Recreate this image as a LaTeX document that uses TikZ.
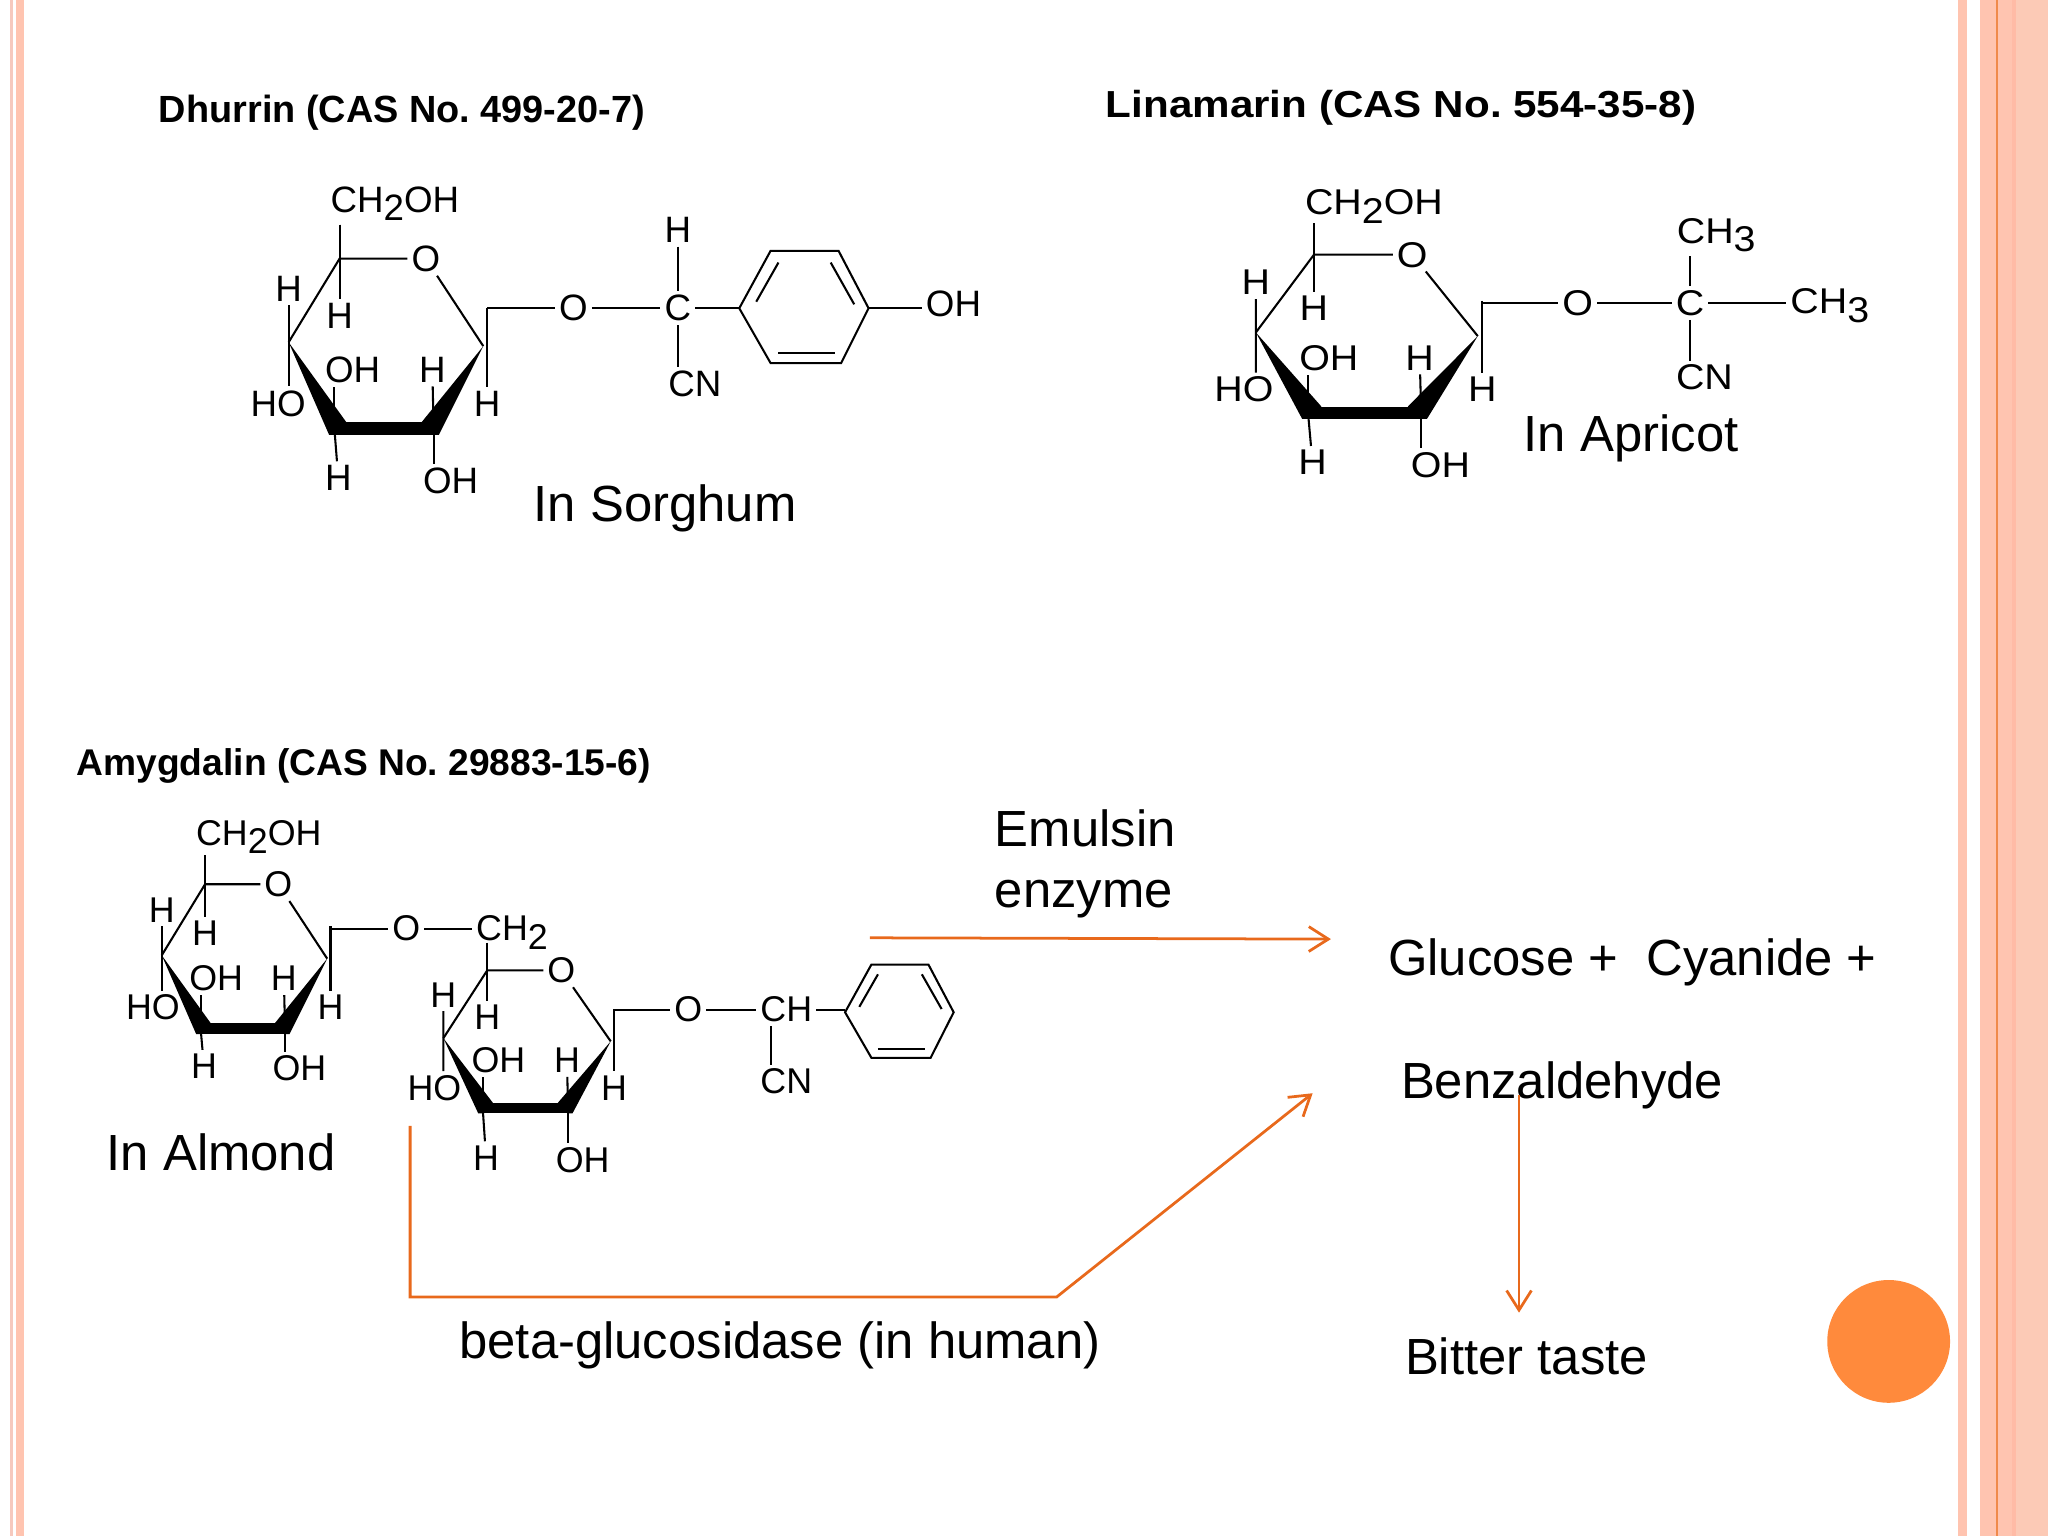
\documentclass[tikz,border=0pt]{standalone}
\usepackage{fontspec}
\setmainfont{Liberation Sans}
\newfontfamily\widebold[FakeStretch=1.12]{Liberation Sans Bold}
\newfontfamily\widechem[FakeStretch=1.1]{Liberation Sans}
\usetikzlibrary{arrows.meta}
\definecolor{barpeach}{HTML}{FFC4B0}
\definecolor{barpale}{HTML}{FCCAB6}
\definecolor{bardark}{HTML}{FFBBA6}
\definecolor{barpink}{HTML}{F6C9BE}
\definecolor{barline}{HTML}{F08A4B}
\definecolor{dotorange}{HTML}{FF8A3C}
\definecolor{arroworange}{HTML}{E8691C}
\tikzset{
	chemlab/.style={font=\fontsize{8}{8}\selectfont, inner sep=0.7pt},
	chemsmall/.style={font=\fontsize{7.8}{8}\selectfont, inner sep=0.7pt},
	chemwide/.style={font=\widechem\fontsize{7.8}{8}\selectfont, inner sep=0.7pt},
	bond/.style={line width=0.45pt, black},
	heading/.style={anchor=base west, inner sep=0pt, font=\bfseries\fontsize{8.25}{9}\selectfont},
	slidetext/.style={anchor=base west, inner sep=0pt, font=\fontsize{11.07}{13}\selectfont},
	flow/.style={line width=0.6pt, arroworange, -{Straight Barb[length=1.5mm,width=1.9mm]}},
}
\newcommand{\lowered}[1]{\raisebox{-0.45ex}{#1}}
% ring: name prefix, position of the upper left carbon, x and y scale, label style, height of the lowest labels
\newcommand{\sugarring}[6]{
	\begin{scope}[shift={(#2)}, xscale=#3, yscale=#4, every node/.style={#5}]
		\coordinate (#1C5) at (0,0);
		\coordinate (#1C1) at (110,67);
		\coordinate (#1C2) at (72,130);
		\coordinate (#1C3) at (-4,130);
		\coordinate (#1C4) at (-39,64);
		\coordinate (#1top) at (0,-26);
		\coordinate (#1link) at (113,38);
		\node (#1O) at (66,0) {O};
		\node (#1Ha) at (-39,23) {H};
		\node (#1Hb) at (0,44) {H};
		\node (#1HO) at (-47,111) {HO};
		\node (#1OHa) at (10,85) {OH};
		\node (#1Hc) at (71,85) {H};
		\node (#1Hd) at (113,111) {H};
		\node (#1He) at (-1,#6) {H};
		\node (#1OHb) at (85,#6+2) {OH};
		\draw[bond] (#1C4) -- (#1C5) -- (#1O) -- (#1C1);
		\draw[bond] (#1top) -- (#1Hb);
		\draw[bond] (#1Ha) -- (#1Ha |- #1HO.north);
		\draw[bond] (#1C3) -- (#1C3 |- #1OHa.south);
		\draw[bond] (#1C2) -- (#1Hc);
		\draw[bond] (#1link) -- (#1link |- #1Hd.north);
		\draw[bond] (#1C3) -- (#1He);
		\draw[bond] (#1C2) -- (#1C2 |- #1OHb.north);
		\fill (#1C4) -- (5,125) -- (-4,135) -- (-8,135) -- cycle;
		\fill (-8,125) rectangle (76,135);
		\fill (#1C1) -- (63,125) -- (72,135) -- (76,135) -- cycle;
	\end{scope}
}
% benzene: name prefix, position of the left corner, x and y scale
\newcommand{\benzring}[4]{
	\begin{scope}[shift={(#2)}, xscale=#3, yscale=#4]
		\coordinate (#1a) at (0,0);
		\coordinate (#1b) at (24,-44);
		\coordinate (#1c) at (76,-44);
		\coordinate (#1d) at (99,0);
		\coordinate (#1e) at (78,42);
		\coordinate (#1f) at (24,42);
		\draw[bond] (#1a) -- (#1b) -- (#1c) -- (#1d) -- (#1e) -- (#1f) -- cycle;
		\draw[bond] (30,-35) -- (13,-5);
		\draw[bond] (70,-35) -- (88,-3);
		\draw[bond] (30,34) -- (73,34);
	\end{scope}
}
\begin{document}
\frenchspacing
\begin{tikzpicture}[x=0.1mm, y=-0.1mm]
	\useasboundingbox (0,0) rectangle (1568,1176);
	% side bars
	\fill[barpink] (7.7,0) rectangle (10,1176);
	\fill[barpeach] (12.3,0) rectangle (18.4,1176);
	\fill[barpeach] (1499.2,0) rectangle (1506,1176);
	\fill[barpeach] (1516,0) rectangle (1540.5,1176);
	\fill[barline] (1528.3,0) rectangle (1529.8,1176);
	\fill[bardark] (1540.5,0) rectangle (1543.6,1176);
	\fill[barpale] (1543.6,0) rectangle (1568,1176);
	\fill[dotorange] (1446,1027) circle (4.7mm);

	% Dhurrin
	\node[heading] (dhurrintitle) at (121,94) {Dhurrin (CAS No. 499-20-7)};
	\sugarring{d}{260,198}{1}{1}{chemlab}{168}
	\node[chemlab, anchor=west] (dCH) at (250,156) {CH\lowered{2}OH};
	\draw[bond] (dtop) -- (dC5);
	\node[chemlab] (dOlink) at (439,236) {O};
	\node[chemlab] (dCc) at (519,236) {C};
	\node[chemlab] (dHtop) at (519,176) {H};
	\node[chemlab] (dCN) at (532,294) {CN};
	\node[chemlab] (dOHr) at (730,233) {OH};
	\benzring{db}{566,236}{1}{1}
	\draw[bond] (dlink) -- (dOlink) -- (dCc) -- (dba);
	\draw[bond] (dHtop) -- (dCc);
	\draw[bond] (dCc) -- (dCc |- dCN.north);
	\draw[bond] (dbd) -- (dbd -| dOHr.west);
	\node[slidetext] (sorghum) at (408,399) {In Sorghum};

	% Linamarin
	\node[heading, font=\widebold\fontsize{8.2}{9}\selectfont] (linamarintitle) at (846,90) {Linamarin (CAS No. 554-35-8)};
	\sugarring{l}{1006,195}{1.14}{0.93}{chemwide}{171}
	\node[chemwide, anchor=west] (lCH) at (996,158) {CH\lowered{2}OH};
	\draw[bond] (ltop) -- (lC5);
	\node[chemwide] (lOlink) at (1208,232) {O};
	\node[chemwide] (lCc) at (1294,232) {C};
	\node[chemwide] (lCHa) at (1314,180) {CH\lowered{3}};
	\node[chemwide] (lCHb) at (1401,234) {CH\lowered{3}};
	\node[chemwide] (lCN) at (1305,289) {CN};
	\draw[bond] (llink) -- (llink |- lOlink) -- (lOlink) -- (lCc);
	\draw[bond] (lCc) -- (lCc -| lCHb.west);
	\draw[bond] (lCc) -- (lCc |- lCHa.south);
	\draw[bond] (lCc) -- (lCc |- lCN.north);
	\node[slidetext] (apricot) at (1166,346) {In Apricot};

	% Amygdalin
	\node[heading, font=\bfseries\fontsize{8.1}{9}\selectfont] (amygdalintitle) at (58,594) {Amygdalin (CAS No. 29883-15-6)};
	\sugarring{a}{157,677}{0.85}{0.85}{chemsmall}{164}
	\node[chemsmall, anchor=west] (aCH) at (147,641) {CH\lowered{2}OH};
	\draw[bond] (atop) -- (aC5);
	\node[chemsmall] (aOlink) at (311,711) {O};
	\node[chemsmall] (aCHb) at (392,714) {CH\lowered{2}};
	\draw[bond] (alink) -- (alink |- aOlink) -- (aOlink);
	\draw[bond] (aOlink) -- (aOlink -| aCHb.west);
	\sugarring{m}{373,743}{0.86}{0.81}{chemsmall}{177}
	\draw[bond] (mtop) -- (mC5);
	\node[chemsmall] (mOlink) at (527,773) {O};
	\node[chemsmall] (mCH) at (602,773) {CH};
	\node[chemsmall] (mCN) at (602,828) {CN};
	\coordinate (mCbond) at (590,773);
	\benzring{mb}{647,775}{0.84}{0.83}
	\draw[bond] (mlink) -- (mlink |- mOlink) -- (mOlink) -- (mCH);
	\draw[bond] (mCH.east) -- (mCH.east -| mba);
	\draw[bond] (mCbond |- mCH.south) -- (mCbond |- mCN.north);
	\node[slidetext] (almond) at (81,896) {In Almond};

	% products and arrows
	\node[slidetext] (emulsin) at (761,648) {Emulsin};
	\node[slidetext] (enzyme) at (761,695) {enzyme};
	\node[slidetext] (products) at (1062,747) {Glucose +\ \ Cyanide +};
	\node[slidetext] (benzaldehyde) at (1072,841) {Benzaldehyde};
	\node[slidetext] (glucosidase) at (351,1040) {beta-glucosidase (in human)};
	\node[slidetext] (bitter) at (1075,1052) {Bitter taste};
	\coordinate (emulsinstart) at (666,718);
	\coordinate (emulsinend) at (1019,719);
	\coordinate (betastart) at (314,862);
	\coordinate (betacorner) at (314,993);
	\coordinate (betabend) at (809,993);
	\coordinate (betaend) at (1005,837);
	\coordinate (tastestart) at (1163,838);
	\coordinate (tasteend) at (1163,1005);
	\draw[flow] (emulsinstart) -- (emulsinend);
	\draw[flow] (betastart) -- (betacorner) -- (betabend) -- (betaend);
	\draw[flow] (tastestart) -- (tasteend);
\end{tikzpicture}
\end{document}
